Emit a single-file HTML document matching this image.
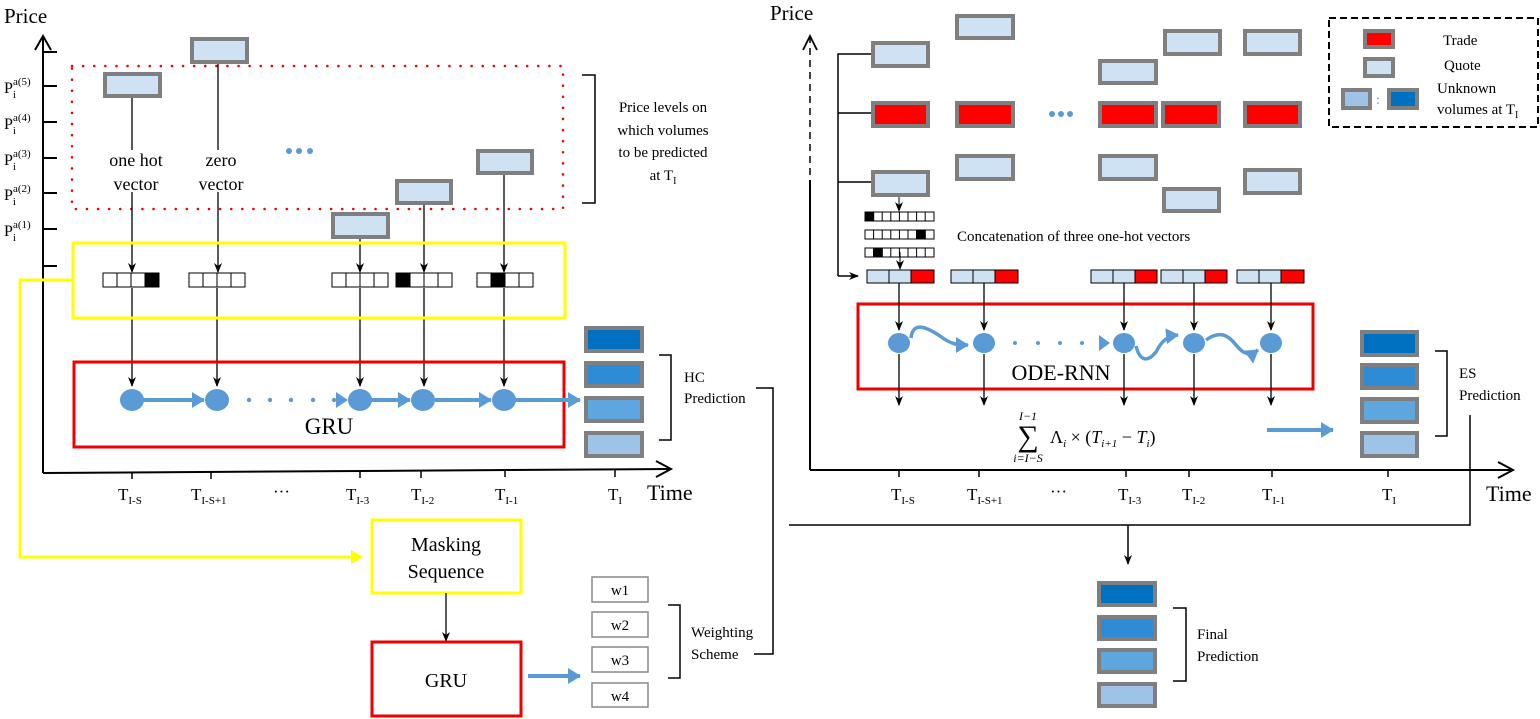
<!DOCTYPE html>
<html><head><meta charset="utf-8"><style>
html,body{margin:0;padding:0;background:#fff;}
svg{display:block;font-family:"Liberation Serif",serif;}
</style></head><body>
<svg width="1540" height="719" viewBox="0 0 1540 719" xmlns="http://www.w3.org/2000/svg">
<defs>
<marker id="ah" markerWidth="10" markerHeight="10" refX="9" refY="5" orient="auto" markerUnits="userSpaceOnUse">
<path d="M0,1 L10,5 L0,9 L3,5 Z" fill="#000"/></marker>
<marker id="bh" markerWidth="14" markerHeight="16" refX="12" refY="8" orient="auto" markerUnits="userSpaceOnUse">
<path d="M0,0 L13,8 L0,16 Z" fill="#5b9bd5"/></marker>
<marker id="yh" markerWidth="12" markerHeight="14" refX="11" refY="7" orient="auto" markerUnits="userSpaceOnUse">
<path d="M0,0 L12,7 L0,14 Z" fill="#ffff00"/></marker>
</defs>

<!-- ============ LEFT PANEL ============ -->
<text x="4" y="23" font-size="21">Price</text>
<line x1="43" y1="36" x2="43" y2="473" stroke="#000" stroke-width="2"/>
<path d="M35,50 L43,36 L51,50" fill="none" stroke="#000" stroke-width="2"/>
<g stroke="#000" stroke-width="2">
<line x1="43" y1="52" x2="57" y2="52"/><line x1="43" y1="86" x2="57" y2="86"/>
<line x1="43" y1="122" x2="57" y2="122"/><line x1="43" y1="158" x2="57" y2="158"/>
<line x1="43" y1="193" x2="57" y2="193"/><line x1="43" y1="229" x2="57" y2="229"/>
<line x1="43" y1="266" x2="57" y2="266"/>
</g>
<g font-size="16">
<text x="4" y="93">P<tspan font-size="11" dy="5">i</tspan><tspan font-size="11" dy="-13" dx="-3">a(5)</tspan></text>
<text x="4" y="129">P<tspan font-size="11" dy="5">i</tspan><tspan font-size="11" dy="-13" dx="-3">a(4)</tspan></text>
<text x="4" y="165">P<tspan font-size="11" dy="5">i</tspan><tspan font-size="11" dy="-13" dx="-3">a(3)</tspan></text>
<text x="4" y="200">P<tspan font-size="11" dy="5">i</tspan><tspan font-size="11" dy="-13" dx="-3">a(2)</tspan></text>
<text x="4" y="236">P<tspan font-size="11" dy="5">i</tspan><tspan font-size="11" dy="-13" dx="-3">a(1)</tspan></text>
</g>
<rect x="72" y="66" width="491" height="143" fill="none" stroke="#e00" stroke-width="2.5" stroke-dasharray="0.1 11" stroke-linecap="round"/>
<path d="M582,75 H595 V203 H582" fill="none" stroke="#000" stroke-width="1.5"/>
<g font-size="15" text-anchor="middle">
<text x="663" y="112">Price levels on</text>
<text x="663" y="135">which volumes</text>
<text x="663" y="157">to be predicted</text>
<text x="663" y="180">at T<tspan font-size="10" dy="4">I</tspan></text>
</g>
<!-- quote boxes -->
<g fill="#cfe2f3" stroke="#7f7f7f" stroke-width="4">
<rect x="105" y="74" width="55" height="22"/>
<rect x="192" y="39" width="55" height="23"/>
<rect x="333" y="214" width="55" height="23"/>
<rect x="397" y="181" width="54" height="22"/>
<rect x="478" y="151" width="54" height="22"/>
</g>
<!-- vertical connectors -->
<g stroke="#000" stroke-width="1.3">
<line x1="132" y1="98" x2="132" y2="150"/><line x1="132" y1="192" x2="132" y2="272" marker-end="url(#ah)"/>
<line x1="218" y1="64" x2="218" y2="150"/><line x1="218" y1="192" x2="218" y2="272" marker-end="url(#ah)"/>
<line x1="360" y1="239" x2="360" y2="272" marker-end="url(#ah)"/>
<line x1="424" y1="205" x2="424" y2="272" marker-end="url(#ah)"/>
<line x1="504" y1="175" x2="504" y2="272" marker-end="url(#ah)"/>
<line x1="132" y1="288" x2="132" y2="386" marker-end="url(#ah)"/>
<line x1="217" y1="288" x2="217" y2="386" marker-end="url(#ah)"/>
<line x1="360" y1="288" x2="360" y2="386" marker-end="url(#ah)"/>
<line x1="424" y1="288" x2="424" y2="386" marker-end="url(#ah)"/>
<line x1="504" y1="288" x2="504" y2="386" marker-end="url(#ah)"/>
</g>
<g font-size="18" text-anchor="middle">
<text x="136" y="166">one hot</text><text x="136" y="190">vector</text>
<text x="221" y="166">zero</text><text x="221" y="190">vector</text>
</g>
<g fill="#5b9bd5"><circle cx="289" cy="151" r="3"/><circle cx="299" cy="151" r="3"/><circle cx="310" cy="151" r="3"/></g>
<!-- yellow box -->
<rect x="73" y="243" width="492" height="75" fill="none" stroke="#ffff00" stroke-width="3"/>
<polyline points="73,280 20,280 20,557 362,557" fill="none" stroke="#ffff00" stroke-width="3" marker-end="url(#yh)"/>
<!-- one-hot 4-cell vectors -->
<g stroke="#000" stroke-width="1" fill="#fff">
<rect x="103" y="273" width="14" height="14"/><rect x="117" y="273" width="14" height="14"/><rect x="131" y="273" width="14" height="14"/><rect x="145" y="273" width="14" height="14" fill="#000"/>
<rect x="189" y="273" width="14" height="14"/><rect x="203" y="273" width="14" height="14"/><rect x="217" y="273" width="14" height="14"/><rect x="231" y="273" width="14" height="14"/>
<rect x="332" y="273" width="14" height="14"/><rect x="346" y="273" width="14" height="14"/><rect x="360" y="273" width="14" height="14"/><rect x="374" y="273" width="14" height="14"/>
<rect x="396" y="273" width="14" height="14" fill="#000"/><rect x="410" y="273" width="14" height="14"/><rect x="424" y="273" width="14" height="14"/><rect x="438" y="273" width="14" height="14"/>
<rect x="477" y="273" width="14" height="14"/><rect x="491" y="273" width="14" height="14" fill="#000"/><rect x="505" y="273" width="14" height="14"/><rect x="519" y="273" width="14" height="14"/>
</g>
<!-- GRU box -->
<rect x="74" y="362" width="490" height="85" fill="none" stroke="#e00" stroke-width="3"/>
<g stroke="#5b9bd5" stroke-width="4" fill="none">
<line x1="143" y1="400" x2="204" y2="400" marker-end="url(#bh)"/>
<line x1="371" y1="400" x2="410" y2="400" marker-end="url(#bh)"/>
<line x1="435" y1="400" x2="491" y2="400" marker-end="url(#bh)"/>
<line x1="515" y1="400" x2="580" y2="400" marker-end="url(#bh)"/>
</g>
<path d="M336,392 L348,400 L336,408 Z" fill="#5b9bd5"/>
<g fill="#5b9bd5">
<ellipse cx="132" cy="400" rx="12" ry="11"/><ellipse cx="217" cy="400" rx="12" ry="11"/>
<ellipse cx="360" cy="400" rx="12" ry="11"/><ellipse cx="423" cy="400" rx="12" ry="11"/>
<ellipse cx="504" cy="400" rx="12" ry="11"/>
<circle cx="249" cy="400" r="2.2"/><circle cx="270" cy="400" r="2.2"/><circle cx="291" cy="400" r="2.2"/><circle cx="313" cy="400" r="2.2"/><circle cx="334" cy="400" r="2.2"/>
</g>
<text x="329" y="434" font-size="23" text-anchor="middle">GRU</text>
<!-- HC prediction -->
<g stroke="#7f7f7f" stroke-width="4">
<rect x="586" y="328" width="56" height="23" fill="#0070c0"/>
<rect x="586" y="363" width="56" height="23" fill="#2e8bd6"/>
<rect x="586" y="398" width="56" height="23" fill="#5ea6de"/>
<rect x="586" y="433" width="56" height="23" fill="#9dc3e6"/>
</g>
<path d="M659,355 H671 V440 H659" fill="none" stroke="#000" stroke-width="1.5"/>
<text x="684" y="382" font-size="15">HC</text>
<text x="684" y="403" font-size="15">Prediction</text>
<polyline points="756,388 773,388 773,654 754,654" fill="none" stroke="#000" stroke-width="1.5"/>
<!-- x axis -->
<line x1="43" y1="473" x2="670" y2="469" stroke="#000" stroke-width="2"/>
<path d="M656,461 L671,469 L656,477" fill="none" stroke="#000" stroke-width="2"/>
<g stroke="#000" stroke-width="1.5">
<line x1="132" y1="472" x2="132" y2="479"/><line x1="211" y1="472" x2="211" y2="479"/>
<line x1="360" y1="471" x2="360" y2="478"/><line x1="421" y1="471" x2="421" y2="478"/>
<line x1="505" y1="470" x2="505" y2="477"/><line x1="615" y1="470" x2="615" y2="477"/>
</g>
<g font-size="17">
<text x="118" y="500">T<tspan font-size="11" dy="4">I-S</tspan></text>
<text x="191" y="500">T<tspan font-size="11" dy="4">I-S+1</tspan></text>
<text x="273" y="497">···</text>
<text x="346" y="500">T<tspan font-size="11" dy="4">I-3</tspan></text>
<text x="411" y="500">T<tspan font-size="11" dy="4">I-2</tspan></text>
<text x="495" y="500">T<tspan font-size="11" dy="4">I-1</tspan></text>
<text x="608" y="500">T<tspan font-size="11" dy="4">I</tspan></text>
</g>
<text x="647" y="500" font-size="22">Time</text>
<!-- masking -->
<rect x="372" y="520" width="149" height="73" fill="none" stroke="#ffff00" stroke-width="3"/>
<text x="446" y="551" font-size="20" text-anchor="middle">Masking</text>
<text x="446" y="578" font-size="20" text-anchor="middle">Sequence</text>
<line x1="446" y1="593" x2="446" y2="641" stroke="#000" stroke-width="1.3" marker-end="url(#ah)"/>
<rect x="372" y="642" width="149" height="74" fill="none" stroke="#e00" stroke-width="3"/>
<text x="446" y="687" font-size="20" text-anchor="middle">GRU</text>
<line x1="528" y1="676" x2="580" y2="676" stroke="#5b9bd5" stroke-width="4" marker-end="url(#bh)"/>
<g fill="#fff" stroke="#888" stroke-width="1.5">
<rect x="592" y="577" width="56" height="25"/><rect x="592" y="612" width="56" height="25"/>
<rect x="592" y="647" width="56" height="25"/><rect x="592" y="683" width="56" height="24"/>
</g>
<g font-size="15" text-anchor="middle">
<text x="620" y="595">w1</text><text x="620" y="630">w2</text><text x="620" y="665">w3</text><text x="620" y="701">w4</text>
</g>
<path d="M668,605 H680 V678 H668" fill="none" stroke="#000" stroke-width="1.5"/>
<text x="691" y="637" font-size="15">Weighting</text>
<text x="691" y="659" font-size="15">Scheme</text>

<!-- ============ RIGHT PANEL ============ -->
<text x="770" y="20" font-size="21">Price</text>
<line x1="810" y1="36" x2="810" y2="180" stroke="#000" stroke-width="1.5" stroke-dasharray="7 5"/>
<line x1="810" y1="180" x2="810" y2="470" stroke="#000" stroke-width="2"/>
<path d="M803,50 L810,36 L817,50" fill="none" stroke="#000" stroke-width="1.8"/>
<polyline points="871,54 838,54 838,276" fill="none" stroke="#000" stroke-width="1.5"/>
<line x1="838" y1="113" x2="871" y2="113" stroke="#000" stroke-width="1.5"/>
<line x1="838" y1="182" x2="871" y2="182" stroke="#000" stroke-width="1.5"/>
<line x1="838" y1="276" x2="858" y2="276" stroke="#000" stroke-width="1.5" marker-end="url(#ah)"/>
<g fill="#cfe2f3" stroke="#7f7f7f" stroke-width="4">
<rect x="873" y="43" width="55" height="23"/>
<rect x="957" y="16" width="56" height="22"/>
<rect x="1165" y="31" width="55" height="23"/>
<rect x="1245" y="31" width="55" height="23"/>
<rect x="1100" y="61" width="56" height="22"/>
<rect x="873" y="172" width="55" height="23"/>
<rect x="957" y="156" width="56" height="23"/>
<rect x="1100" y="156" width="56" height="23"/>
<rect x="1164" y="189" width="55" height="22"/>
<rect x="1245" y="170" width="55" height="23"/>
</g>
<g fill="#ff0000" stroke="#7f7f7f" stroke-width="4">
<rect x="873" y="103" width="55" height="23"/>
<rect x="957" y="103" width="56" height="23"/>
<rect x="1100" y="103" width="56" height="23"/>
<rect x="1163" y="103" width="56" height="23"/>
<rect x="1245" y="103" width="55" height="23"/>
</g>
<g fill="#5b9bd5"><circle cx="1052" cy="114" r="3"/><circle cx="1061" cy="114" r="3"/><circle cx="1070" cy="114" r="3"/></g>
<line x1="899" y1="197" x2="899" y2="211" stroke="#000" stroke-width="1" marker-end="url(#ah)"/>
<!-- 8-cell vectors -->
<g stroke="#000" stroke-width="1" fill="#fff">
<rect x="865" y="212" width="69" height="9"/>
<rect x="865" y="230" width="69" height="9"/>
<rect x="865" y="248" width="69" height="9"/>
<rect x="865" y="212" width="8.6" height="9" fill="#000"/>
<rect x="916.6" y="230" width="8.6" height="9" fill="#000"/>
<rect x="873.6" y="248" width="8.6" height="9" fill="#000"/>
</g>
<g stroke="#000" stroke-width="1">
<path d="M873.6,212V221M882.2,212V221M890.8,212V221M899.4,212V221M908,212V221M916.6,212V221M925.2,212V221"/>
<path d="M873.6,230V239M882.2,230V239M890.8,230V239M899.4,230V239M908,230V239M916.6,230V239M925.2,230V239"/>
<path d="M873.6,248V257M882.2,248V257M890.8,248V257M899.4,248V257M908,248V257M916.6,248V257M925.2,248V257"/>
</g>
<line x1="900" y1="252" x2="900" y2="269" stroke="#000" stroke-width="1" marker-end="url(#ah)"/>
<text x="957" y="241" font-size="15">Concatenation of three one-hot vectors</text>
<!-- 3-cell vectors -->
<g stroke="#000" stroke-width="1">
<rect x="867" y="270" width="22" height="13" fill="#cfe2f3"/><rect x="889" y="270" width="22" height="13" fill="#cfe2f3"/><rect x="911" y="270" width="23" height="13" fill="#ff0000"/>
<rect x="951" y="270" width="22" height="13" fill="#cfe2f3"/><rect x="973" y="270" width="22" height="13" fill="#cfe2f3"/><rect x="995" y="270" width="23" height="13" fill="#ff0000"/>
<rect x="1091" y="270" width="22" height="13" fill="#cfe2f3"/><rect x="1113" y="270" width="22" height="13" fill="#cfe2f3"/><rect x="1135" y="270" width="22" height="13" fill="#ff0000"/>
<rect x="1161" y="270" width="22" height="13" fill="#cfe2f3"/><rect x="1183" y="270" width="22" height="13" fill="#cfe2f3"/><rect x="1205" y="270" width="22" height="13" fill="#ff0000"/>
<rect x="1237" y="270" width="22" height="13" fill="#cfe2f3"/><rect x="1259" y="270" width="22" height="13" fill="#cfe2f3"/><rect x="1281" y="270" width="23" height="13" fill="#ff0000"/>
</g>
<!-- legend -->
<rect x="1329" y="18" width="209" height="109" fill="none" stroke="#000" stroke-width="2" stroke-dasharray="7 4"/>
<rect x="1365" y="31" width="28" height="16" fill="#ff0000" stroke="#7f7f7f" stroke-width="4"/>
<rect x="1365" y="59" width="28" height="17" fill="#cfe2f3" stroke="#7f7f7f" stroke-width="4"/>
<rect x="1343" y="90" width="27" height="18" fill="#9dc3e6" stroke="#7f7f7f" stroke-width="4"/>
<text x="1376" y="104" font-size="14" fill="#5b9bd5">:</text>
<rect x="1389" y="90" width="28" height="18" fill="#0070c0" stroke="#7f7f7f" stroke-width="4"/>
<g font-size="15">
<text x="1443" y="45">Trade</text>
<text x="1444" y="70">Quote</text>
<text x="1437" y="93">Unknown</text>
<text x="1437" y="114">volumes at T<tspan font-size="10" dy="4">I</tspan></text>
</g>
<!-- ODE-RNN -->
<rect x="858" y="304" width="455" height="85" fill="none" stroke="#e00" stroke-width="3"/>
<g stroke="#000" stroke-width="1.3">
<line x1="899" y1="283" x2="899" y2="330" marker-end="url(#ah)"/>
<line x1="984" y1="283" x2="984" y2="330" marker-end="url(#ah)"/>
<line x1="1124" y1="283" x2="1124" y2="330" marker-end="url(#ah)"/>
<line x1="1194" y1="283" x2="1194" y2="330" marker-end="url(#ah)"/>
<line x1="1271" y1="283" x2="1271" y2="330" marker-end="url(#ah)"/>
<line x1="899" y1="354" x2="899" y2="405" marker-end="url(#ah)"/>
<line x1="984" y1="354" x2="984" y2="405" marker-end="url(#ah)"/>
<line x1="1124" y1="354" x2="1124" y2="405" marker-end="url(#ah)"/>
<line x1="1194" y1="354" x2="1194" y2="405" marker-end="url(#ah)"/>
<line x1="1271" y1="354" x2="1271" y2="405" marker-end="url(#ah)"/>
</g>
<g stroke="#5b9bd5" stroke-width="3.5" fill="none">
<path d="M911,338 C913,320 928,328 940,336 C952,345 958,345 968,345" marker-end="url(#bh)"/>
<path d="M1136,346 C1140,362 1148,362 1156,352 C1162,340 1168,336 1178,335" marker-end="url(#bh)"/>
<path d="M1206,340 C1220,330 1228,335 1236,345 C1244,355 1250,356 1258,350" marker-end="url(#bh)"/>
</g>
<path d="M1099,335 L1110,343 L1099,351 Z" fill="#5b9bd5"/>
<g fill="#5b9bd5">
<ellipse cx="899" cy="343" rx="11" ry="10"/><ellipse cx="984" cy="343" rx="11" ry="10"/>
<ellipse cx="1124" cy="343" rx="11" ry="10"/><ellipse cx="1194" cy="343" rx="11" ry="10"/>
<ellipse cx="1271" cy="343" rx="11" ry="10"/>
<circle cx="1015" cy="343" r="2"/><circle cx="1038" cy="343" r="2"/><circle cx="1060" cy="343" r="2"/><circle cx="1082" cy="343" r="2"/>
</g>
<text x="1061" y="380" font-size="22" text-anchor="middle">ODE-RNN</text>
<!-- sum -->
<text x="1028" y="420" font-size="12" font-style="italic" text-anchor="middle">I−1</text>
<text x="1028" y="446" font-size="30" text-anchor="middle">∑</text>
<text x="1028" y="462" font-size="12" font-style="italic" text-anchor="middle">i=I−S</text>
<text x="1050" y="443" font-size="18">Λ<tspan font-size="11" font-style="italic" dy="4">i</tspan><tspan dy="-4"> × (</tspan><tspan font-style="italic">T</tspan><tspan font-size="11" font-style="italic" dy="4">i+1</tspan><tspan dy="-4"> − </tspan><tspan font-style="italic">T</tspan><tspan font-size="11" font-style="italic" dy="4">i</tspan><tspan dy="-4">)</tspan></text>
<line x1="1267" y1="430" x2="1333" y2="430" stroke="#5b9bd5" stroke-width="4" marker-end="url(#bh)"/>
<!-- ES prediction -->
<g stroke="#7f7f7f" stroke-width="4">
<rect x="1362" y="332" width="55" height="23" fill="#0070c0"/>
<rect x="1362" y="365" width="55" height="23" fill="#2e8bd6"/>
<rect x="1362" y="399" width="55" height="23" fill="#5ea6de"/>
<rect x="1362" y="433" width="55" height="23" fill="#9dc3e6"/>
</g>
<path d="M1435,351 H1447 V436 H1435" fill="none" stroke="#000" stroke-width="1.5"/>
<text x="1459" y="378" font-size="15">ES</text>
<text x="1459" y="400" font-size="15">Prediction</text>
<polyline points="1470,415 1470,525 789,525" fill="none" stroke="#000" stroke-width="1.5"/>
<line x1="1128" y1="525" x2="1128" y2="564" stroke="#000" stroke-width="1.5" marker-end="url(#ah)"/>
<!-- right x axis -->
<line x1="810" y1="470" x2="1512" y2="470" stroke="#000" stroke-width="2"/>
<path d="M1498,462 L1513,470 L1498,478" fill="none" stroke="#000" stroke-width="2"/>
<g stroke="#000" stroke-width="1.5">
<line x1="899" y1="470" x2="899" y2="477"/><line x1="979" y1="470" x2="979" y2="477"/>
<line x1="1126" y1="470" x2="1126" y2="477"/><line x1="1189" y1="470" x2="1189" y2="477"/>
<line x1="1272" y1="470" x2="1272" y2="477"/><line x1="1388" y1="470" x2="1388" y2="477"/>
</g>
<g font-size="17">
<text x="891" y="500">T<tspan font-size="11" dy="4">I-S</tspan></text>
<text x="967" y="500">T<tspan font-size="11" dy="4">I-S+1</tspan></text>
<text x="1050" y="497">···</text>
<text x="1118" y="500">T<tspan font-size="11" dy="4">I-3</tspan></text>
<text x="1182" y="500">T<tspan font-size="11" dy="4">I-2</tspan></text>
<text x="1262" y="500">T<tspan font-size="11" dy="4">I-1</tspan></text>
<text x="1382" y="500">T<tspan font-size="11" dy="4">I</tspan></text>
</g>
<text x="1486" y="501" font-size="22">Time</text>
<!-- final prediction -->
<g stroke="#7f7f7f" stroke-width="4">
<rect x="1099" y="583" width="56" height="22" fill="#0070c0"/>
<rect x="1099" y="617" width="56" height="22" fill="#2e8bd6"/>
<rect x="1099" y="650" width="56" height="22" fill="#5ea6de"/>
<rect x="1099" y="684" width="56" height="22" fill="#9dc3e6"/>
</g>
<path d="M1173,608 H1186 V681 H1173" fill="none" stroke="#000" stroke-width="1.5"/>
<text x="1197" y="639" font-size="15">Final</text>
<text x="1197" y="661" font-size="15">Prediction</text>
</svg>
</body></html>
